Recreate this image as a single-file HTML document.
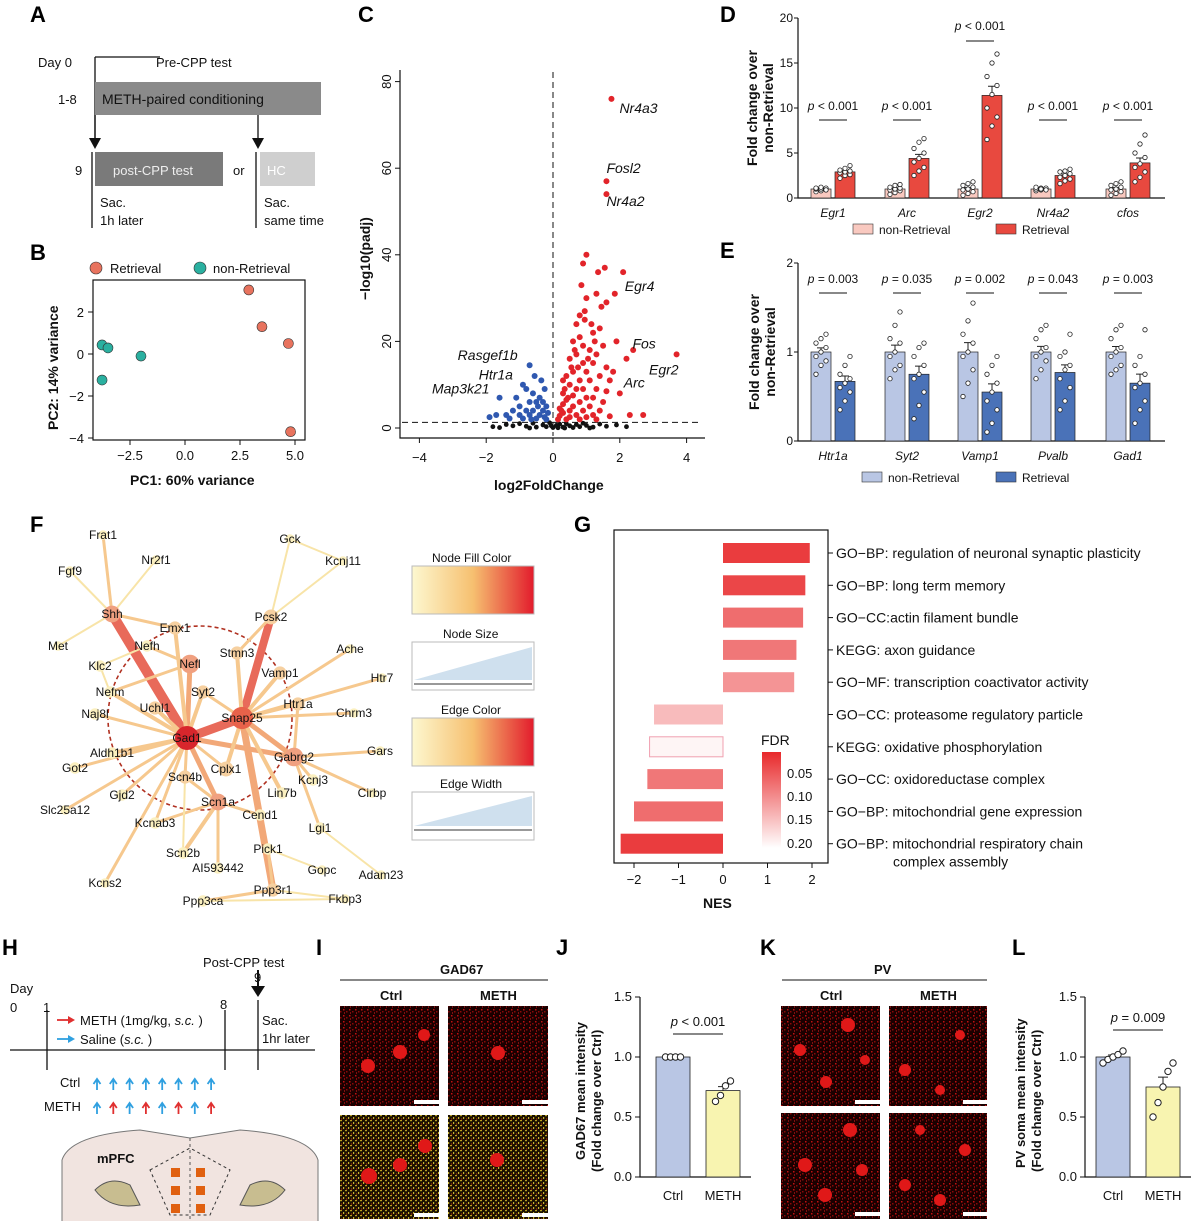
<!DOCTYPE html>
<html><head><meta charset="utf-8">
<style>
html,body{margin:0;padding:0;background:#fff;}
svg{display:block;font-family:"Liberation Sans",sans-serif;}
.L{font-size:22px;font-weight:bold;}
.t{font-size:13px;fill:#111;}
.s{font-size:12px;fill:#111;}
.ax{stroke:#111;stroke-width:1.2;fill:none;}
</style></head>
<body>
<svg id="fig" width="1200" height="1221" viewBox="0 0 1200 1221" xmlns="http://www.w3.org/2000/svg">
<defs>
<linearGradient id="gYR" x1="0" x2="1"><stop offset="0" stop-color="#fdf8d0"/><stop offset="0.5" stop-color="#f6c070"/><stop offset="1" stop-color="#e21b2c"/></linearGradient>
<linearGradient id="gFDR" x1="0" y1="0" x2="0" y2="1"><stop offset="0" stop-color="#e8292b"/><stop offset="1" stop-color="#ffffff"/></linearGradient>
<pattern id="pRed" width="6" height="6" patternUnits="userSpaceOnUse"><rect width="6" height="6" fill="#1a0000"/><rect x="1" y="1" width="1.5" height="1.5" fill="#c01010"/><rect x="4" y="3" width="1.5" height="1.5" fill="#8a0808"/><rect x="2" y="4.5" width="1" height="1" fill="#e02020"/></pattern>
<pattern id="pYel" width="5" height="5" patternUnits="userSpaceOnUse"><rect width="5" height="5" fill="#1a1000"/><rect x="0" y="0" width="2" height="1.2" fill="#b8a020"/><rect x="3" y="2" width="1.2" height="2" fill="#c8b030"/><rect x="1" y="3.5" width="1.2" height="1" fill="#c03010"/></pattern>
</defs>

<g>
<text class="L" x="30" y="22">A</text><text class="L" x="30" y="260">B</text><text class="L" x="358" y="22">C</text>
<text class="L" x="720" y="22">D</text><text class="L" x="720" y="258">E</text><text class="L" x="30" y="532">F</text>
<text class="L" x="574" y="532">G</text><text class="L" x="2" y="955">H</text><text class="L" x="316" y="955">I</text>
<text class="L" x="556" y="955">J</text><text class="L" x="760" y="955">K</text><text class="L" x="1012" y="955">L</text>
</g>

<g>
<text class="t" x="38" y="67">Day 0</text>
<path d="M95 57 H160 M95 57 V140" stroke="#111" stroke-width="1.3" fill="none"/>
<text class="t" x="156" y="67">Pre-CPP test</text>
<text class="t" x="58" y="104">1-8</text>
<rect x="95" y="82" width="226" height="33" fill="#8a8a8a"/>
<text class="t" x="102" y="104" style="font-size:14px">METH-paired conditioning</text>
<path d="M95 115 V145" stroke="#111" stroke-width="1.3"/><polygon points="89,138 101,138 95,149" fill="#111"/>
<path d="M258 115 V145" stroke="#111" stroke-width="1.3"/><polygon points="252,138 264,138 258,149" fill="#111"/>
<text class="t" x="75" y="175">9</text>
<rect x="95" y="152" width="128" height="34" fill="#7a7a7a"/><text class="t" x="113" y="175" style="fill:#eee">post-CPP test</text>
<path d="M92 152 V228 M256 152 V228" stroke="#111" stroke-width="1.3"/>
<text class="t" x="233" y="175">or</text>
<rect x="260" y="152" width="55" height="34" fill="#cfcfcf"/><text class="t" x="267" y="175" style="fill:#fff">HC</text>
<text class="t" x="100" y="207">Sac.</text><text class="t" x="100" y="225">1h later</text>
<text class="t" x="264" y="207">Sac.</text><text class="t" x="264" y="225">same time</text>
</g>

<g id="pB">
<circle cx="96" cy="268" r="6" fill="#e8735e" stroke="#333" stroke-width="0.6"/><text class="t" x="110" y="273">Retrieval</text>
<circle cx="200" cy="268" r="6" fill="#2ab0a0" stroke="#333" stroke-width="0.6"/><text class="t" x="213" y="273">non-Retrieval</text>
<rect x="93" y="280" width="212" height="160" class="ax"/>
<text class="t" x="130" y="485" style="font-weight:bold;font-size:14px">PC1: 60% variance</text>
<text class="t" transform="translate(58,430) rotate(-90)" style="font-weight:bold;font-size:14px">PC2: 14% variance</text>
</g>

<g id="pC">
<text class="t" transform="translate(370,300) rotate(-90)" style="font-weight:bold;font-size:14px">−log10(padj)</text>
<text class="t" x="494" y="490" style="font-weight:bold;font-size:14px">log2FoldChange</text>
</g>

<g id="pD">
<text class="t" text-anchor="middle" transform="translate(757,108) rotate(-90)" style="font-weight:bold;font-size:14px">Fold change over</text>
<text class="t" text-anchor="middle" transform="translate(773,108) rotate(-90)" style="font-weight:bold;font-size:14px">non-Retrieval</text>
<rect x="853" y="224" width="20" height="10" fill="#f9c9c0" stroke="#333" stroke-width="0.6"/><text class="s" x="879" y="234">non-Retrieval</text>
<rect x="996" y="224" width="20" height="10" fill="#e8493f" stroke="#333" stroke-width="0.6"/><text class="s" x="1022" y="234">Retrieval</text>
</g>
<g id="pE">
<text class="t" text-anchor="middle" transform="translate(759,352) rotate(-90)" style="font-weight:bold;font-size:14px">Fold change over</text>
<text class="t" text-anchor="middle" transform="translate(775,352) rotate(-90)" style="font-weight:bold;font-size:14px">non-Retrieval</text>
<rect x="862" y="472" width="20" height="10" fill="#b9c6e4" stroke="#333" stroke-width="0.6"/><text class="s" x="888" y="482">non-Retrieval</text>
<rect x="996" y="472" width="20" height="10" fill="#4a72b8" stroke="#333" stroke-width="0.6"/><text class="s" x="1022" y="482">Retrieval</text>
</g>

<g id="pF">
<circle cx="200" cy="718" r="92" fill="none" stroke="#b03020" stroke-width="1.6" stroke-dasharray="4,3"/>
</g>
<g>
<text class="s" x="432" y="562">Node Fill Color</text><rect x="412" y="566" width="122" height="48" fill="url(#gYR)" stroke="#bbb"/>
<text class="s" x="443" y="638">Node Size</text><rect x="412" y="642" width="122" height="48" fill="#fff" stroke="#bbb"/><polygon points="414,680 532,647 532,680" fill="#cfe0ee"/><line x1="414" y1="684" x2="532" y2="684" stroke="#333"/>
<text class="s" x="441" y="714">Edge Color</text><rect x="412" y="718" width="122" height="48" fill="url(#gYR)" stroke="#bbb"/>
<text class="s" x="440" y="788">Edge Width</text><rect x="412" y="792" width="122" height="48" fill="#fff" stroke="#bbb"/><polygon points="414,826 532,796 532,826" fill="#cfe0ee"/><line x1="414" y1="830" x2="532" y2="830" stroke="#333"/>
</g>

<g id="pG">
<rect x="614" y="530" width="214" height="333" class="ax"/>
<text class="t" x="703" y="908" style="font-weight:bold;font-size:14px">NES</text>
<rect x="762" y="752" width="19" height="96" fill="url(#gFDR)"/>
<text class="t" x="761" y="745" style="font-size:14px">FDR</text>
<text class="t" x="787" y="778">0.05</text><text class="t" x="787" y="801">0.10</text><text class="t" x="787" y="824">0.15</text><text class="t" x="787" y="848">0.20</text>
</g>

<g>
<text class="t" x="10" y="993">Day</text>
<text class="t" x="10" y="1012">0</text><text class="t" x="43" y="1012">1</text><text class="t" x="220" y="1009">8</text><text class="t" x="254" y="982">9</text>
<text class="t" x="203" y="967">Post-CPP test</text>
<path d="M258 970 V990" stroke="#111" stroke-width="2"/><polygon points="251,986 265,986 258,997" fill="#111"/>
<path d="M10 1050 H315 M47 1010 V1070 M225 1010 V1070 M258 1000 V1070" stroke="#111" stroke-width="1.3" fill="none"/>
<path d="M57 1020 H70" stroke="#e03030" stroke-width="1.8"/><polygon points="68,1016 75,1020 68,1024" fill="#e03030"/>
<text class="t" x="80" y="1025">METH (1mg/kg, <tspan font-style="italic">s.c.</tspan> )</text>
<path d="M57 1039 H70" stroke="#30a0e0" stroke-width="1.8"/><polygon points="68,1035 75,1039 68,1043" fill="#30a0e0"/>
<text class="t" x="80" y="1044">Saline (<tspan font-style="italic">s.c.</tspan> )</text>
<text class="t" x="262" y="1025">Sac.</text><text class="t" x="262" y="1043">1hr later</text>
<text class="t" x="60" y="1087">Ctrl</text><text class="t" x="44" y="1111">METH</text>
<g id="arrowsH"></g>
<path d="M62 1221 V1160 Q70 1135 140 1130 L190 1138 L240 1130 Q310 1135 318 1160 V1221" fill="#f1e4e0" stroke="#777" stroke-width="1"/>
<path d="M190 1138 V1221" stroke="#555" stroke-dasharray="3,3"/>
<path d="M150 1170 L190 1148 L230 1170 L210 1215 L170 1215 Z" fill="none" stroke="#333" stroke-dasharray="3,3"/>
<path d="M95 1190 Q110 1175 130 1185 L140 1205 Q110 1210 95 1190 Z" fill="#c8bd90" stroke="#555"/>
<path d="M285 1190 Q270 1175 250 1185 L240 1205 Q270 1210 285 1190 Z" fill="#c8bd90" stroke="#555"/>
<text class="t" x="97" y="1163" style="font-weight:bold">mPFC</text>
<rect x="171" y="1168" width="9" height="9" fill="#e06010"/><rect x="196" y="1168" width="9" height="9" fill="#e06010"/>
<rect x="171" y="1186" width="9" height="9" fill="#e06010"/><rect x="196" y="1186" width="9" height="9" fill="#e06010"/>
<rect x="171" y="1204" width="9" height="9" fill="#e06010"/><rect x="196" y="1204" width="9" height="9" fill="#e06010"/>
</g>

<g>
<text class="t" x="440" y="974" style="font-weight:bold">GAD67</text><line x1="340" y1="980" x2="548" y2="980" stroke="#111"/>
<text class="t" x="380" y="1000" style="font-weight:bold">Ctrl</text><text class="t" x="480" y="1000" style="font-weight:bold">METH</text>
<rect x="340" y="1006" width="99" height="100" fill="url(#pRed)"/><rect x="448" y="1006" width="100" height="100" fill="url(#pRed)"/>
<rect x="340" y="1115" width="99" height="104" fill="url(#pYel)"/><rect x="448" y="1115" width="100" height="104" fill="url(#pYel)"/>
<g fill="#e01818"><circle cx="400" cy="1052" r="7"/><circle cx="424" cy="1035" r="6"/><circle cx="368" cy="1066" r="7"/><circle cx="498" cy="1053" r="7"/>
<circle cx="425" cy="1146" r="7"/><circle cx="400" cy="1165" r="7"/><circle cx="369" cy="1176" r="8"/><circle cx="497" cy="1160" r="7"/></g>
<g fill="#fff"><rect x="414" y="1100" width="27" height="4"/><rect x="522" y="1100" width="27" height="4"/><rect x="414" y="1213" width="27" height="4"/><rect x="522" y="1213" width="27" height="4"/></g>
</g>
<g>
<text class="t" x="874" y="974" style="font-weight:bold">PV</text><line x1="782" y1="980" x2="987" y2="980" stroke="#111"/>
<text class="t" x="820" y="1000" style="font-weight:bold">Ctrl</text><text class="t" x="920" y="1000" style="font-weight:bold">METH</text>
<rect x="781" y="1006" width="99" height="100" fill="url(#pRed)"/><rect x="889" y="1006" width="98" height="100" fill="url(#pRed)"/>
<rect x="781" y="1113" width="99" height="106" fill="url(#pRed)"/><rect x="889" y="1113" width="98" height="106" fill="url(#pRed)"/>
<g fill="#e01818"><circle cx="848" cy="1025" r="7"/><circle cx="800" cy="1050" r="6"/><circle cx="826" cy="1082" r="6"/><circle cx="865" cy="1060" r="5"/><circle cx="905" cy="1070" r="6"/><circle cx="960" cy="1035" r="5"/><circle cx="940" cy="1090" r="5"/>
<circle cx="850" cy="1130" r="7"/><circle cx="805" cy="1165" r="7"/><circle cx="825" cy="1195" r="7"/><circle cx="862" cy="1170" r="6"/><circle cx="905" cy="1185" r="6"/><circle cx="965" cy="1150" r="6"/><circle cx="940" cy="1200" r="6"/><circle cx="920" cy="1130" r="5"/></g>
<g fill="#fff"><rect x="855" y="1100" width="27" height="4"/><rect x="963" y="1100" width="27" height="4"/><rect x="855" y="1212" width="27" height="4"/><rect x="963" y="1212" width="27" height="4"/></g>
</g>
<g id="pJ">
<text class="t" transform="translate(585,1160) rotate(-90)" style="font-weight:bold">GAD67 mean intensity</text>
<text class="t" transform="translate(601,1172) rotate(-90)" style="font-weight:bold">(Fold change over Ctrl)</text>
</g>
<g id="pL">
<text class="t" transform="translate(1025,1168) rotate(-90)" style="font-weight:bold">PV soma mean intensity</text>
<text class="t" transform="translate(1041,1172) rotate(-90)" style="font-weight:bold">(Fold change over Ctrl)</text>
</g>
</svg>

<script>
const NS='http://www.w3.org/2000/svg';
function el(tag,a,p){const e=document.createElementNS(NS,tag);for(const k in a)e.setAttribute(k,a[k]);p.appendChild(e);return e;}
function tx(p,x,y,s,extra){const e=el('text',Object.assign({x:x,y:y,class:'s'},extra||{}),p);e.textContent=s;return e;}

/* ---------- B data ---------- */
const pcaRetX=[2.9,3.5,4.7,4.8], pcaRetY=[3.05,1.3,0.5,-3.7];
const pcaNonX=[-3.77,-3.5,-3.77,-2.0], pcaNonY=[0.43,0.29,-1.24,-0.1];
const pcaXTicks=[-2.5,0,2.5,5], pcaXLabels=['−2.5','0.0','2.5','5.0'];
const pcaYTicks=[2,0,-2,-4], pcaYLabels=['2','0','−2','−4'];
/* ---------- C data ---------- */
const upX=[1.75,1.6,1.6,1.85,2.2,2.0,3.7,1.0,0.9,1.35,1.55,2.1,1.3,1.0,1.6,0.8,0.95,0.7,1.15,1.4,0.8,1.2,0.6,0.9,1.5,1.1,0.7,1.3,2.4,0.5,0.9,1.2,1.6,0.6,1.0,1.4,0.4,0.8,1.1,1.7,0.5,0.7,0.9,1.3,1.6,0.3,0.6,1.0,1.2,0.4,0.8,1.5,0.3,0.6,1.1,0.2,0.5,0.9,1.4,0.3,0.7,1.2,0.2,0.5,1.0,1.7,2.3,2.7,0.15,0.4,0.8,1.3,0.25,0.35,0.55,0.75,1.05,0.65,1.25,0.85,1.8,1.9,0.45,0.3,0.95,1.45];
const upY=[76,57,54,31,16,8,17,40,38,36,37,36,31,30,29,26,25,24,24,23,21,22,20,19,19,18,17,17,18,16,15,15,14,13,13,12,12,11,11,11,10,9,9,9,8.5,8,7.5,7,7,6.5,6,6,5.5,5,5,4.5,4,4,4,3.5,3,3,2.8,2.5,2.5,2.7,3,3,2,2,2,2,4,9,14,14,16,18,20,33,13,20,7,11,27,28];
const dnX=[-0.7,-0.9,-1.6,-0.8,-0.6,-0.4,-0.3,-0.5,-0.7,-0.2,-0.45,-1.0,-0.6,-0.3,-0.8,-1.2,-0.15,-0.4,-0.7,-1.0,-1.4,-1.7,-0.25,-0.5,-0.9,-1.3,-1.9,-0.2,-0.65,-0.35,-0.55,-0.25,-1.1];
const dnY=[14.5,10,7,9,8,7,6,6,6,5,5,5,4,4,4,4,3.5,3,3,3,3,3,2.5,2.2,2.2,2.2,2.5,2,2,11,12,9,7];
const nsX=[-1.8,-1.4,-1.2,-1.0,-0.8,-0.6,-0.5,-0.3,-0.2,-0.1,0,0.1,0.2,0.3,0.4,0.5,0.6,0.7,0.8,0.9,1.0,1.2,1.4,1.6,1.9,2.2,-0.7,0.35,-0.05,0.15,1.1,-1.6];
const nsY=[0.3,0.8,0.5,1,0.4,1.1,0.2,0.7,0.3,1.2,0.1,0.6,0.9,0.2,1.0,0.5,0.1,0.8,0.3,1.1,0.6,0.2,0.9,0.4,0.7,0.3,0,0,0.5,0.05,0,0.1];
const volLabels=['Nr4a3','Fosl2','Nr4a2','Egr4','Fos','Arc','Egr2','Rasgef1b','Htr1a','Map3k21'];
const volLabX=[1.75,1.6,1.6,1.85,2.2,2.0,3.7,-0.7,-0.9,-1.6];
const volLabY=[76,57,54,31,16,8,17,14.5,10,7];
const volXTicks=[-4,-2,0,2,4], volYTicks=[0,20,40,60,80];
/* ---------- D data ---------- */
const dGenes=['Egr1','Arc','Egr2','Nr4a2','cfos'];
const dNon=[1.0,1.0,1.0,1.0,1.0], dRet=[2.9,4.4,11.4,2.5,3.9];
const dNonDots=[[0.7,0.8,0.9,1.0,1.0,1.1,1.1,1.2,0.9],[0.4,0.6,0.8,0.9,1.0,1.1,1.2,1.4,1.5],[0.3,0.5,0.7,0.9,1.0,1.2,1.4,1.6,1.8],[0.8,0.9,1.0,1.0,1.1,1.1,1.2,1.0,0.9],[0.3,0.5,0.7,0.9,1.0,1.2,1.4,1.6,1.8]];
const dRetDots=[[2.2,2.5,2.6,2.8,2.9,3.0,3.1,3.3,3.6],[2.5,3.0,3.4,4.0,4.4,5.0,5.5,6.2,6.6],[6.5,8.0,9.0,10.0,11.5,12.5,13.5,15.0,16.0],[1.6,1.9,2.1,2.3,2.5,2.7,2.9,3.0,3.2],[1.8,2.3,2.9,3.4,3.8,4.5,5.0,6.0,7.0]];
const dP=['p < 0.001','p < 0.001','p < 0.001','p < 0.001','p < 0.001'];
const dTicks=[0,5,10,15,20];
/* ---------- E data ---------- */
const eGenes=['Htr1a','Syt2','Vamp1','Pvalb','Gad1'];
const eNon=[1.0,1.0,1.0,1.0,1.0], eRet=[0.67,0.75,0.55,0.77,0.65];
const eNonDots=[[0.75,0.85,0.9,0.95,1.0,1.05,1.1,1.15,1.2],[0.7,0.8,0.85,0.95,1.0,1.1,1.15,1.3,1.45],[0.5,0.65,0.8,0.95,1.0,1.1,1.2,1.35,1.55],[0.7,0.8,0.9,0.95,1.0,1.05,1.15,1.25,1.3],[0.75,0.8,0.85,0.95,1.0,1.05,1.15,1.25,1.3]];
const eRetDots=[[0.35,0.45,0.55,0.6,0.65,0.7,0.75,0.85,0.95],[0.25,0.4,0.55,0.7,0.75,0.85,0.95,1.05,1.1],[0.1,0.2,0.35,0.45,0.55,0.65,0.75,0.85,0.95],[0.35,0.45,0.6,0.7,0.8,0.85,0.95,1.0,1.2],[0.2,0.35,0.45,0.6,0.65,0.75,0.85,0.95,1.25]];
const eP=['p = 0.003','p = 0.035','p = 0.002','p = 0.043','p = 0.003'];
const eTicks=[0,1,2];
/* ---------- G data ---------- */
const gTerms=['GO−BP: regulation of neuronal synaptic plasticity','GO−BP: long term memory','GO−CC:actin filament bundle','KEGG: axon guidance','GO−MF: transcription coactivator activity','GO−CC: proteasome regulatory particle','KEGG: oxidative phosphorylation','GO−CC: oxidoreductase complex','GO−BP: mitochondrial gene expression','GO−BP: mitochondrial respiratory chain'];
const gNES=[1.95,1.85,1.8,1.65,1.6,-1.55,-1.65,-1.7,-2.0,-2.3];
const gFDR=[0.02,0.03,0.07,0.08,0.11,0.15,0.21,0.08,0.07,0.02];
const gTicks=[-2,-1,0,1,2];
/* ---------- J / L data ---------- */
const jGroups=['Ctrl','METH'], jMeans=[1.0,0.72];
const jDots=[[1.0,1.0,1.0,1.0],[0.63,0.68,0.76,0.8]];
const lGroups=['Ctrl','METH'], lMeans=[1.0,0.75];
const lDots=[[0.95,0.98,1.0,1.02,1.05],[0.5,0.62,0.75,0.88,0.95]];
const smallTicks=[0,0.5,1.0,1.5], smallTickLabels=['0.0','0.5','1.0','1.5'];
/* ---------- F network data ---------- */
const nodeNames=['Gad1','Snap25','Nefl','Gabrg2','Scn1a','Shh','Pcsk2','Cplx1','Syt2','Vamp1','Htr1a','Stmn3','Emx1','Nefh','Klc2','Nefm','Uchl1','Naj8l','Aldh1b1','Got2','Gjd2','Slc25a12','Kcnab3','Scn4b','Scn2b','AI593442','Kcns2','Ppp3ca','Ppp3r1','Fkbp3','Pick1','Cend1','Lin7b','Kcnj3','Lgi1','Gopc','Adam23','Cirbp','Gars','Chrm3','Htr7','Ache','Gck','Kcnj11','Frat1','Nr2f1','Fgf9','Met'];
const nodeX=[187,242,190,294,218,112,271,226,203,280,298,237,175,147,100,110,155,95,112,75,122,65,155,185,183,218,105,203,273,345,268,260,282,313,320,322,381,372,380,354,382,350,290,343,103,156,70,58];
const nodeY=[738,718,664,757,802,614,617,769,692,673,704,653,628,646,666,692,708,714,753,768,795,810,823,777,853,868,883,901,890,899,849,815,793,780,828,870,875,793,751,713,678,649,539,561,535,560,571,646];
const nodeDeg=[10,9,7,7,6,6,5,5,4,4,4,4,4,3,3,3,4,3,3,3,3,2,3,4,3,3,2,3,4,2,3,3,3,3,3,2,2,2,2,2,2,2,2,2,2,2,2,2];
const edgeA=['Gad1','Gad1','Gad1','Gad1','Gad1','Gad1','Gad1','Gad1','Gad1','Gad1','Gad1','Gad1','Gad1','Gad1','Gad1','Gad1','Gad1','Snap25','Snap25','Snap25','Snap25','Snap25','Snap25','Snap25','Snap25','Snap25','Snap25','Snap25','Snap25','Gabrg2','Gabrg2','Gabrg2','Gabrg2','Gabrg2','Scn1a','Scn1a','Scn1a','Scn1a','Scn1a','Shh','Shh','Shh','Shh','Shh','Gck','Gck','Kcnj11','Pick1','Ppp3r1','Ppp3r1','Ppp3ca','Lgi1','Gopc','Nefl','Nefl','Nefh','Klc2','Gad1','Scn4b','Pcsk2'];
const edgeB=['Shh','Snap25','Nefl','Scn1a','Gabrg2','Syt2','Uchl1','Aldh1b1','Nefm','Gjd2','Kcnab3','Scn4b','Cplx1','Kcns2','Emx1','Got2','Slc25a12','Pcsk2','Ppp3r1','Vamp1','Stmn3','Htr1a','Gabrg2','Cplx1','Syt2','Chrm3','Ache','Htr7','Lin7b','Kcnj3','Gars','Cirbp','Lgi1','Htr1a','Scn2b','Scn4b','Kcnab3','Cend1','AI593442','Frat1','Fgf9','Nr2f1','Met','Emx1','Kcnj11','Pcsk2','Pcsk2','Ppp3r1','Ppp3ca','Fkbp3','Fkbp3','Adam23','Pick1','Nefh','Nefm','Klc2','Nefm','Naj8l','Scn2b','Stmn3'];
const edgeW=[10,9,5,5,5,4,4,4,4,3,3,3,3,3,4,3,3,8,7,4,4,4,5,4,3,3,3,3,4,3,3,3,3,3,4,3,3,3,3,3,2,2,2,3,2,2,2,3,3,2,2,2,2,3,3,2,2,3,2,3];

const svg=document.getElementById('fig');

/* ===== B ===== */
(function(){
 const g=document.getElementById('pB');
 const sx=v=>185+v*22, sy=v=>354-v*21;
 pcaXTicks.forEach((v,i)=>{const l=el('line',{x1:sx(v),x2:sx(v),y1:440,y2:445,stroke:'#111'},g);
  
  
  const t=tx(g,sx(v),460,pcaXLabels[i],{'text-anchor':'middle',class:'t'});
  
  });
 pcaYTicks.forEach((v,i)=>{const l=el('line',{x1:88,x2:93,y1:sy(v),y2:sy(v),stroke:'#111'},g);
  
  
  const t=tx(g,84,sy(v)+5,pcaYLabels[i],{'text-anchor':'end',class:'t'});
  
  });
 pcaRetX.forEach((v,i)=>{const c=el('circle',{cx:sx(v),cy:sy(pcaRetY[i]),r:5,fill:'#e8735e',stroke:'#333','stroke-width':0.6},g);
  
  });
 pcaNonX.forEach((v,i)=>{const c=el('circle',{cx:sx(v),cy:sy(pcaNonY[i]),r:5,fill:'#2ab0a0',stroke:'#333','stroke-width':0.6},g);
  
  });
})();

/* ===== C ===== */
(function(){
 const g=document.getElementById('pC');
 const sx=v=>553+v*33.4, sy=v=>428-v*4.33;
 const ax=el('path',{d:'M400 70 V438 H705',class:'ax'},g);
 
 
 volXTicks.forEach(v=>{const l=el('line',{x1:sx(v),x2:sx(v),y1:438,y2:443,stroke:'#111'},g);
  
  
  const t=tx(g,sx(v),462,v<0?'−'+(-v):String(v),{'text-anchor':'middle',class:'t'});
  
  });
 volYTicks.forEach(v=>{const l=el('line',{x1:395,x2:400,y1:sy(v),y2:sy(v),stroke:'#111'},g);
  
  
  const t=tx(g,0,0,String(v),{'text-anchor':'middle',class:'t',transform:'translate('+391+','+sy(v)+') rotate(-90)'});
  
  });
 const d1=el('line',{x1:sx(0),x2:sx(0),y1:72,y2:436,stroke:'#111','stroke-dasharray':'6,4'},g);
 
 
 const d2=el('line',{x1:402,x2:700,y1:sy(1.3),y2:sy(1.3),stroke:'#111','stroke-dasharray':'6,4'},g);
 
 
 nsX.forEach((v,i)=>{const c=el('circle',{cx:sx(v),cy:sy(nsY[i]),r:2.4,fill:'#111'},g);
  
  });
 dnX.forEach((v,i)=>{const c=el('circle',{cx:sx(v),cy:sy(dnY[i]),r:3,fill:'#2f58b0'},g);
  
  });
 upX.forEach((v,i)=>{const c=el('circle',{cx:sx(v),cy:sy(upY[i]),r:3,fill:'#e2242a'},g);
  
  });
 const offs={Nr4a3:[8,14],Fosl2:[0,-8],Nr4a2:[0,12],Egr4:[10,-3],Fos:[6,-10],Arc:[4,-6],Egr2:[-18,4],Rasgef1b:[-12,-5],Htr1a:[-10,-5],Map3k21:[-10,-4]};
 volLabels.forEach((n,i)=>{const o=offs[n];const left=volLabX[i]<0||n==='Egr2';
  const t=tx(g,sx(volLabX[i])+o[0],sy(volLabY[i])+o[1],n,{class:'t','font-style':'italic','text-anchor':left?'end':'start',style:'font-size:14px'});
  if(n==='Egr2'){t.setAttribute('x',sx(volLabX[i])+2);t.setAttribute('y',sy(volLabY[i])+20);}
  
  });
})();

/* ===== D / E generic ===== */
function bars(gid,genes,non,ret,nonDots,retDots,pvals,ticks,y0,pxPer,cNon,cRet,pY,brY,raiseIdx){
 const g=document.getElementById(gid);
 const centers=[833,907,980,1053,1128];
 const AX=798;
 const sy=v=>y0-v*pxPer;
 const ax=el('path',{d:'M'+AX+' '+sy(ticks[ticks.length-1])+' V'+y0+' H1165',class:'ax'},g);
 
 
 ticks.forEach(v=>{const l=el('line',{x1:AX-4,x2:AX,y1:sy(v),y2:sy(v),stroke:'#111'},g);
  
  
  const t=tx(g,AX-5,sy(v)+4,String(v),{'text-anchor':'end'});
  
  });
 genes.forEach((gn,i)=>{const c=centers[i];
  [[non,nonDots,cNon,-12],[ret,retDots,cRet,12]].forEach(([m,dots,col,off],k)=>{
   const b=el('rect',{x:c+off-10,y:sy(m[i]),width:20,height:y0-sy(m[i]),fill:col,stroke:'#222','stroke-width':0.7},g);
   
   
   const sd=Math.sqrt(dots[i].reduce((a,v)=>a+(v-m[i])*(v-m[i]),0)/dots[i].length)/3;
   const e=el('path',{d:'M'+(c+off)+' '+sy(m[i])+' V'+sy(m[i]+sd)+' M'+(c+off-4)+' '+sy(m[i]+sd)+' H'+(c+off+4),stroke:'#222',fill:'none'},g);
   
   
   dots[i].forEach((v,j)=>{const d=el('circle',{cx:c+off+((j%3)-1)*5,cy:sy(v),r:2.2,fill:'#fff',stroke:'#222','stroke-width':0.8},g);
    
    });
  });
  const py=(i===raiseIdx)?30:pY, by=(i===raiseIdx)?41:brY;
  const p=tx(g,c,py,pvals[i],{'text-anchor':'middle'});
  p.innerHTML='<tspan font-style="italic">p</tspan>'+pvals[i].slice(1);
  
  
  const br=el('line',{x1:c-14,x2:c+14,y1:by,y2:by,stroke:'#111'},g);
  
  
  const gl=tx(g,c,y0+19,gn,{'text-anchor':'middle','font-style':'italic'});
  
  
 });
}
bars('pD',dGenes,dNon,dRet,dNonDots,dRetDots,dP,dTicks,198,9,'#f9c9c0','#e8493f',110,120,2);
bars('pE',eGenes,eNon,eRet,eNonDots,eRetDots,eP,eTicks,441,89,'#b9c6e4','#4a72b8',283,293,-1);

/* ===== F network ===== */
(function(){
 const g=document.getElementById('pF');
 const idx=n=>nodeNames.indexOf(n);
 edgeA.forEach((a,i)=>{const A=idx(a),B=idx(edgeB[i]);const w=edgeW[i];
  const col=w>=8?'#e86a5a':w>=5?'#f2a878':w>=3?'#f6c88e':'#f8e4a8';
  const l=el('line',{x1:nodeX[A],y1:nodeY[A],x2:nodeX[B],y2:nodeY[B],stroke:col,'stroke-width':w,'stroke-linecap':'round'},g);
  
  });
 nodeNames.forEach((n,i)=>{const d=nodeDeg[i];
  const col=d>=10?'#d8262c':d>=9?'#e8624a':d>=6?'#f0a080':d>=4?'#f6d0a0':'#fbf0c0';
  const c=el('circle',{cx:nodeX[i],cy:nodeY[i],r:3+d*0.9,fill:col},g);
  
  
  const t=tx(g,nodeX[i],nodeY[i]+4,n,{'text-anchor':'middle',style:'font-size:12px'});
  
  });
})();

/* ===== G ===== */
(function(){
 const g=document.getElementById('pG');
 const sx=v=>723+v*44.5, sy=i=>553+i*32.3;
 gTicks.forEach(v=>{const l=el('line',{x1:sx(v),x2:sx(v),y1:863,y2:868,stroke:'#111'},g);
  
  
  const t=tx(g,sx(v),884,v<0?'−'+(-v):String(v),{'text-anchor':'middle',class:'t'});
  
  });
 gNES.forEach((v,i)=>{const f=Math.min(1,Math.max(0,(gFDR[i]-0.0)/0.22));
  const r=Math.round(232+(255-232)*f),gg=Math.round(41+(255-41)*f),b=Math.round(43+(255-43)*f);
  const x0=Math.min(sx(0),sx(v));
  const rc=el('rect',{x:x0,y:sy(i)-10,width:Math.abs(sx(v)-sx(0)),height:20,fill:'rgb('+r+','+gg+','+b+')',stroke:f>0.9?'#f0a0b0':'none'},g);
  
  
  const tk=el('line',{x1:828,x2:833,y1:sy(i),y2:sy(i),stroke:'#111'},g);
  
  
  const t=tx(g,836,sy(i)+5,gTerms[i],{class:'t',style:'font-size:14px'});
  
  });
 const t2=tx(g,893,sy(9)+23,'complex assembly',{class:'t',style:'font-size:14px'});
 
 
})();

/* ===== H arrows ===== */
(function(){
 const g=document.getElementById('arrowsH');
 const seq=['s','m','s','m','s','m','s','m'];
 for(let i=0;i<8;i++){const x=97+i*16.3;
  [[1090,'#30a0e0'],[1114,seq[i]==='m'?'#e03030':'#30a0e0']].forEach(([y,c])=>{
   const p=el('path',{d:'M'+x+' '+y+' V'+(y-10)+' M'+(x-3.5)+' '+(y-6)+' L'+x+' '+(y-11)+' L'+(x+3.5)+' '+(y-6),stroke:c,'stroke-width':1.8,fill:'none'},g);
   
   });}
})();

/* ===== J / L ===== */
function small(gid,axX,y0,cx,means,dots,groups,ptxt,pY,brY){
 const g=document.getElementById(gid);
 const sy=v=>y0-v*120;
 const ax=el('path',{d:'M'+axX+' '+sy(1.5)+' V'+y0+' H'+(cx[1]+28),class:'ax'},g);
 
 
 smallTicks.forEach((v,i)=>{const l=el('line',{x1:axX-5,x2:axX,y1:sy(v),y2:sy(v),stroke:'#111'},g);
  
  
  const t=tx(g,axX-8,sy(v)+4,smallTickLabels[i],{'text-anchor':'end',class:'t'});
  
  });
 const cols=['#b9c6e4','#f8f4b0'];
 means.forEach((m,i)=>{const b=el('rect',{x:cx[i]-17,y:sy(m),width:34,height:y0-sy(m),fill:cols[i],stroke:'#222','stroke-width':0.8},g);
  
  
  const sd=Math.sqrt(dots[i].reduce((a,v)=>a+(v-m)*(v-m),0)/dots[i].length)/2;
  const e=el('path',{d:'M'+cx[i]+' '+sy(m)+' V'+sy(m+sd)+' M'+(cx[i]-5)+' '+sy(m+sd)+' H'+(cx[i]+5),stroke:'#222',fill:'none'},g);
  
  
  dots[i].forEach((v,j)=>{const d=el('circle',{cx:cx[i]+(j-(dots[i].length-1)/2)*5,cy:sy(v),r:3.2,fill:'#fff',stroke:'#222','stroke-width':1},g);
   
   });
  const t=tx(g,cx[i],y0+23,groups[i],{'text-anchor':'middle',class:'t'});
  
  });
 const p=tx(g,(cx[0]+cx[1])/2,pY,'',{'text-anchor':'middle',class:'t'});
 p.innerHTML='<tspan font-style="italic">p</tspan>'+ptxt;
 
 
 const br=el('line',{x1:cx[0],x2:cx[1],y1:brY,y2:brY,stroke:'#111'},g);
 
 
}
small('pJ',640,1177,[673,723],jMeans,jDots,jGroups,' < 0.001',1026,1034);
small('pL',1085,1177,[1113,1163],lMeans,lDots,lGroups,' = 0.009',1022,1030);
</script>
</body></html>
